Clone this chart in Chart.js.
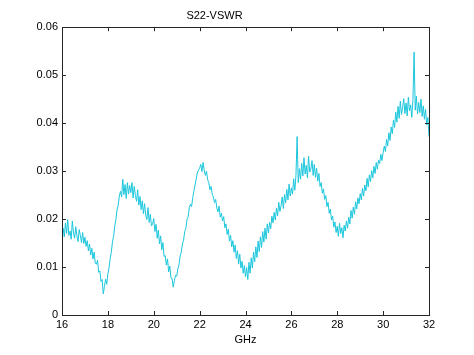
<!DOCTYPE html>
<html>
<head>
<meta charset="utf-8">
<script src="https://cdn.jsdelivr.net/npm/chart.js@4.4.1/dist/chart.umd.min.js"></script>
<style>
html,body{margin:0;padding:0;background:#fff;}
#wrap{width:474px;height:355px;position:relative;}
</style>
</head>
<body>
<div id="wrap"><canvas id="c" width="474" height="355"></canvas></div>
<script>
// Frequency grid (GHz): first sample, spacing
const freqStart = 16;
const freqStep = 0.05;
// S22 VSWR magnitude, one row per GHz
const vswr = [
0.0168,0.0181,0.0163,0.0192,0.0170,0.0199,0.0166,0.0175,0.0158,0.0196,0.0171,0.0160,0.0184,0.0165,0.0153,0.0178,0.0166,0.0151,0.0172,0.0149,
0.0162,0.0143,0.0155,0.0134,0.0148,0.0125,0.0139,0.0117,0.0131,0.0108,0.0106,0.0114,0.0089,0.0092,0.0070,0.0074,0.0044,0.0059,0.0075,0.0064,
0.0086,0.0098,0.0118,0.0131,0.0152,0.0164,0.0186,0.0199,0.0219,0.0229,0.0248,0.0258,0.0246,0.0283,0.0251,0.0272,0.0243,0.0276,0.0252,0.0270,
0.0255,0.0276,0.0244,0.0268,0.0249,0.0237,0.0261,0.0229,0.0247,0.0220,0.0238,0.0211,0.0232,0.0208,0.0199,0.0224,0.0193,0.0210,0.0186,0.0190,
0.0201,0.0174,0.0189,0.0160,0.0177,0.0148,0.0165,0.0136,0.0151,0.0122,0.0124,0.0104,0.0117,0.0090,0.0102,0.0077,0.0076,0.0058,0.0072,0.0083,
0.0081,0.0096,0.0104,0.0123,0.0131,0.0148,0.0156,0.0174,0.0181,0.0199,0.0205,0.0224,0.0231,0.0226,0.0245,0.0258,0.0271,0.0283,0.0296,0.0302,
0.0306,0.0314,0.0299,0.0318,0.0302,0.0291,0.0300,0.0282,0.0276,0.0261,0.0268,0.0252,0.0246,0.0234,0.0241,0.0223,0.0215,0.0227,0.0204,0.0212,
0.0196,0.0205,0.0182,0.0190,0.0168,0.0179,0.0154,0.0166,0.0142,0.0155,0.0131,0.0146,0.0118,0.0134,0.0106,0.0127,0.0098,0.0112,0.0087,0.0103,
0.0080,0.0099,0.0074,0.0110,0.0087,0.0119,0.0098,0.0131,0.0111,0.0142,0.0120,0.0154,0.0132,0.0163,0.0141,0.0174,0.0152,0.0181,0.0158,0.0190,
0.0171,0.0193,0.0180,0.0206,0.0192,0.0214,0.0198,0.0223,0.0207,0.0235,0.0216,0.0228,0.0246,0.0222,0.0251,0.0234,0.0262,0.0240,0.0273,0.0248,
0.0265,0.0252,0.0284,0.0260,0.0291,0.0372,0.0276,0.0305,0.0283,0.0316,0.0290,0.0328,0.0294,0.0312,0.0286,0.0331,0.0298,0.0304,0.0322,0.0291,
0.0314,0.0287,0.0306,0.0279,0.0295,0.0268,0.0276,0.0254,0.0263,0.0241,0.0249,0.0226,0.0235,0.0212,0.0221,0.0198,0.0206,0.0183,0.0194,0.0172,
0.0185,0.0164,0.0191,0.0170,0.0182,0.0161,0.0187,0.0175,0.0196,0.0181,0.0204,0.0190,0.0218,0.0202,0.0225,0.0210,0.0236,0.0221,0.0244,0.0232,
0.0253,0.0240,0.0264,0.0248,0.0271,0.0259,0.0285,0.0267,0.0292,0.0278,0.0301,0.0286,0.0310,0.0295,0.0318,0.0304,0.0323,0.0316,0.0335,0.0322,
0.0339,0.0352,0.0341,0.0366,0.0353,0.0380,0.0364,0.0392,0.0378,0.0406,0.0391,0.0423,0.0402,0.0435,0.0410,0.0446,0.0418,0.0432,0.0451,0.0420,
0.0442,0.0415,0.0454,0.0426,0.0438,0.0412,0.0449,0.0548,0.0427,0.0456,0.0419,0.0443,0.0422,0.0450,0.0414,0.0436,0.0408,0.0429,0.0396,0.0412,
0.0372
];
const xTicks = [16,18,20,22,24,26,28,30,32];
const yTicks = [0,0.01,0.02,0.03,0.04,0.05,0.06];
const titleText = 'S22-VSWR';
const xLabel = 'GHz';

const points = vswr.map((v, i) => ({ x: freqStart + i * freqStep, y: v }));

const FONT = '"Liberation Sans", Arial, sans-serif';
const AXIS_COLOR = '#262626';

const boxTicks = {
  id: 'boxTicks',
  afterDatasetsDraw(chart) {
    const { ctx, chartArea: a, scales: { x, y } } = chart;
    ctx.save();
    ctx.strokeStyle = AXIS_COLOR;
    ctx.lineWidth = 1;
    ctx.beginPath();
    xTicks.forEach(v => {
      const px = Math.round(x.getPixelForValue(v)) + 0.5;
      ctx.moveTo(px, a.bottom); ctx.lineTo(px, a.bottom - 4);
      ctx.moveTo(px, a.top); ctx.lineTo(px, a.top + 4);
    });
    yTicks.forEach(v => {
      const py = Math.round(y.getPixelForValue(v)) + 0.5;
      ctx.moveTo(a.left, py); ctx.lineTo(a.left + 4, py);
      ctx.moveTo(a.right, py); ctx.lineTo(a.right - 4, py);
    });
    ctx.stroke();
    ctx.strokeRect(Math.round(a.left) + 0.5, Math.round(a.top) + 0.5,
      Math.round(a.right - a.left), Math.round(a.bottom - a.top));
    ctx.restore();
  }
};

new Chart(document.getElementById('c'), {
  type: 'line',
  data: {
    datasets: [{
      data: points,
      borderColor: '#1cc6dc',
      borderWidth: 1,
      pointRadius: 0,
      tension: 0,
      fill: false
    }]
  },
  options: {
    responsive: false,
    animation: false,
    events: [],
    layout: { padding: { left: 0, right: 45, top: 0, bottom: 0 } },
    plugins: {
      legend: { display: false },
      tooltip: { enabled: false },
      title: {
        display: true,
        text: titleText,
        color: '#000',
        font: { family: FONT, size: 11, weight: 'normal' },
        padding: { top: 9, bottom: 5 }
      }
    },
    scales: {
      x: {
        type: 'linear',
        min: 16, max: 32,
        afterBuildTicks: s => { s.ticks = xTicks.map(v => ({ value: v })); },
        afterFit: s => { s.height = 40; },
        grid: { display: false, drawTicks: false },
        border: { display: false },
        ticks: { color: '#000', font: { family: FONT, size: 11 }, padding: 3, maxRotation: 0, autoSkip: false },
        title: { display: true, text: xLabel, color: '#000', font: { family: FONT, size: 11 }, padding: { top: 0, bottom: 8 } }
      },
      y: {
        type: 'linear',
        min: 0, max: 0.06,
        afterBuildTicks: s => { s.ticks = yTicks.map(v => ({ value: v })); },
        afterFit: s => { s.width = 62; },
        grid: { display: false, drawTicks: false },
        border: { display: false },
        ticks: { color: '#000', font: { family: FONT, size: 11 }, padding: 4, callback: v => String(v) }
      }
    }
  },
  plugins: [boxTicks]
});
</script>
</body>
</html>
